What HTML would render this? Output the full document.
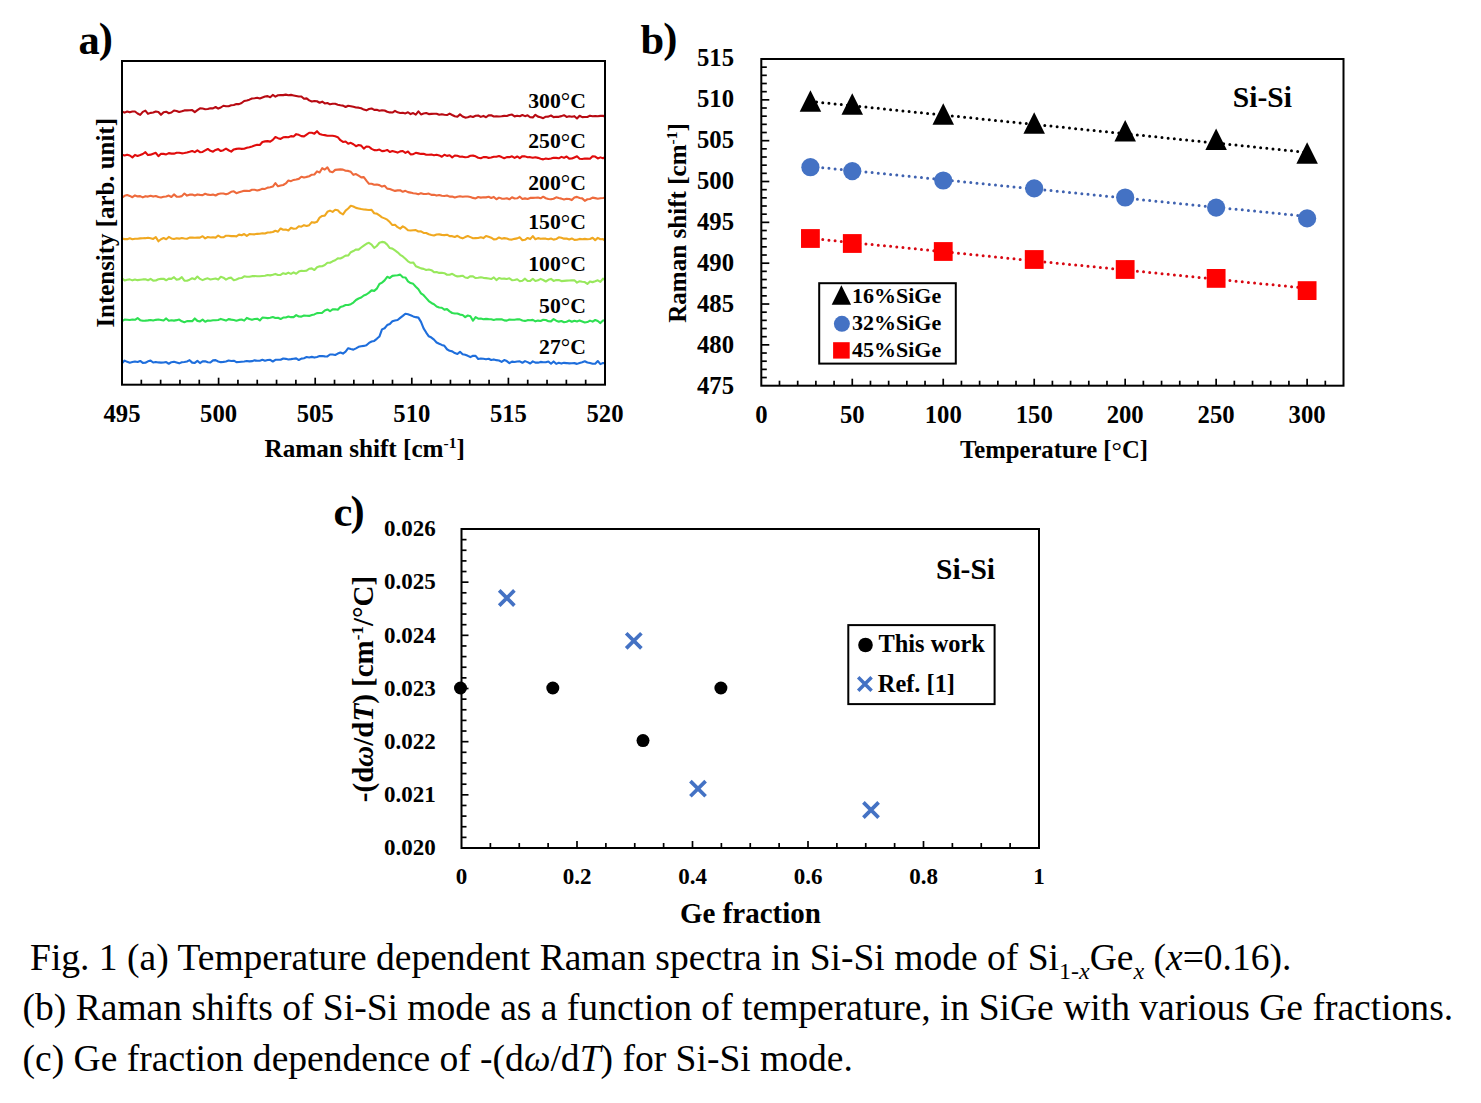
<!DOCTYPE html><html><head><meta charset="utf-8"><style>html,body{margin:0;padding:0;background:#fff;}svg{display:block;}</style></head><body><svg width="1481" height="1103" viewBox="0 0 1481 1103" font-family="'Liberation Serif'">
<rect width="1481" height="1103" fill="#fff"/>
<polyline points="122,111.54 124.6,112.66 127.2,111.47 129.8,112.35 132.4,111.55 135,111.49 137.6,113.47 140.2,114.95 142.8,111.85 145.4,110.64 148,113.82 150.6,112.88 153.2,112.57 155.8,111.52 158.4,111.97 161,114.8 163.6,112.21 166.2,111.7 168.8,113.24 171.4,112.52 174,110.49 176.6,110.93 179.2,112 181.8,111.32 184.4,110.4 187,110.35 189.6,110.2 192.2,110.07 194.8,112.08 197.4,110.2 200,108.39 202.6,108.56 205.2,109.27 207.8,109.06 210.4,108.19 213,108.33 215.6,107.02 218.2,108.58 220.8,107.5 223.4,105.75 226,106.3 228.6,106.3 231.2,105.26 233.8,105.05 236.4,104.1 239,104.13 241.6,103.01 244.2,101.02 246.8,100.4 249.4,99.67 252,98.46 254.6,98.22 257.2,97.83 259.8,98.56 262.4,97.51 265,96.57 267.6,96.13 270.2,97.29 272.8,94.93 275.4,96.63 278,95.26 280.6,95.11 283.2,95.11 285.8,94.63 288.4,95.28 291,94.89 293.6,95.42 296.2,95.98 298.8,96.49 301.4,96.52 304,98.74 306.6,98.36 309.2,100.34 311.8,101.48 314.4,100.93 317,101.23 319.6,102.73 322.2,101.67 324.8,103.43 327.4,103.04 330,104.34 332.6,103.76 335.2,103.82 337.8,104.66 340.4,105.25 343,105.65 345.6,107 348.2,105.74 350.8,106.19 353.4,106.81 356,107.5 358.6,107.65 361.2,108.29 363.8,109.57 366.4,110.36 369,108.96 371.6,108.44 374.2,109.85 376.8,109.84 379.4,110.73 382,110.24 384.6,110.45 387.2,111.8 389.8,112.41 392.4,112.56 395,110.92 397.6,112.34 400.2,112.93 402.8,112.77 405.4,113.4 408,112.24 410.6,114.08 413.2,113.09 415.8,114.58 418.4,111.37 421,114.4 423.6,113.46 426.2,113.01 428.8,114.08 431.4,113.89 434,113.7 436.6,113.81 439.2,114.78 441.8,114.25 444.4,114.74 447,115.06 449.6,113.62 452.2,114.98 454.8,116.24 457.4,116.73 460,114.39 462.6,116.48 465.2,117.59 467.8,117.18 470.4,116.15 473,116.96 475.6,115.83 478.2,115.49 480.8,116.87 483.4,115.92 486,117.24 488.6,115.37 491.2,115.31 493.8,116.49 496.4,116.37 499,116.44 501.6,116.32 504.2,115.87 506.8,116.04 509.4,114.96 512,114.58 514.6,116.38 517.2,115.73 519.8,116.21 522.4,114.98 525,116.13 527.6,115.33 530.2,117.25 532.8,117.42 535.4,114.85 538,116.61 540.6,117.17 543.2,118.17 545.8,116.68 548.4,116.64 551,115.51 553.6,117.16 556.2,116.72 558.8,116.86 561.4,116.12 564,115.2 566.6,116.9 569.2,116.2 571.8,116.8 574.4,116.17 577,118.5 579.6,115.79 582.2,117.16 584.8,116.99 587.4,116.98 590,115.66 592.6,116.26 595.2,115.99 597.8,116.32 600.4,115.85 603,115.74 605,116.72" fill="none" stroke="#B80A12" stroke-width="2.1" stroke-linejoin="round"/>
<polyline points="122,154.7 124.6,155.57 127.2,154.68 129.8,155.48 132.4,157.38 135,154.93 137.6,155.92 140.2,155.08 142.8,154 145.4,152.21 148,155.08 150.6,154.66 153.2,153.68 155.8,152.78 158.4,156.19 161,153.83 163.6,153.88 166.2,154.41 168.8,153.15 171.4,153.65 174,153.66 176.6,152.8 179.2,152.77 181.8,153.35 184.4,152.99 187,152.57 189.6,151.79 192.2,150.93 194.8,152.17 197.4,150.38 200,152.19 202.6,151.92 205.2,150.37 207.8,148.98 210.4,150.76 213,151.65 215.6,149.91 218.2,149.13 220.8,151.04 223.4,150.17 226,148.68 228.6,150.25 231.2,151.63 233.8,149.41 236.4,148.85 239,148.55 241.6,148.85 244.2,148.71 246.8,147.77 249.4,147.2 252,146.42 254.6,145.57 257.2,144.76 259.8,144.94 262.4,141.95 265,141.37 267.6,141.12 270.2,141.62 272.8,139.9 275.4,137.07 278,138.14 280.6,138.92 283.2,137.29 285.8,137.05 288.4,137.3 291,136.15 293.6,136.45 296.2,134.14 298.8,134.83 301.4,136.13 304,136.33 306.6,134.56 309.2,132.74 311.8,132.75 314.4,133.64 317,131.2 319.6,133.94 322.2,134.77 324.8,135.13 327.4,135.78 330,135.8 332.6,135.8 335.2,136.3 337.8,137.14 340.4,140.24 343,141.97 345.6,141.51 348.2,143.72 350.8,142.85 353.4,144.27 356,146.2 358.6,145.05 361.2,145.6 363.8,148.6 366.4,146.5 369,146.7 371.6,148.84 374.2,150.08 376.8,150.2 379.4,149.55 382,151.1 384.6,150.88 387.2,149.95 389.8,151.96 392.4,150.98 395,151.66 397.6,152.61 400.2,151.36 402.8,151.01 405.4,152.88 408,151.5 410.6,154.4 413.2,154.2 415.8,152.8 418.4,153.38 421,153.91 423.6,153.77 426.2,154.75 428.8,154.71 431.4,154.53 434,155.18 436.6,154.75 439.2,155.43 441.8,156.8 444.4,154.71 447,155.88 449.6,155.27 452.2,157.33 454.8,155.49 457.4,155.74 460,156.76 462.6,156.65 465.2,157.27 467.8,156.96 470.4,155.8 473,155.62 475.6,156.32 478.2,157.77 480.8,158.32 483.4,157.15 486,157.1 488.6,157.87 491.2,157.57 493.8,156.8 496.4,156.73 499,156.02 501.6,157.08 504.2,158.3 506.8,157.1 509.4,157.14 512,156.28 514.6,157.87 517.2,156.49 519.8,158.17 522.4,156.18 525,156.38 527.6,157.32 530.2,157.16 532.8,157.71 535.4,157.24 538,157.86 540.6,158.72 543.2,159.38 545.8,158.49 548.4,158.93 551,158.43 553.6,157.74 556.2,157.88 558.8,158.3 561.4,156.87 564,157.85 566.6,156.46 569.2,158.61 571.8,158.56 574.4,157.43 577,156.32 579.6,158.76 582.2,158.93 584.8,158.54 587.4,158.61 590,158.72 592.6,156.18 595.2,156.58 597.8,158.43 600.4,157.37 603,158.31 605,157.29" fill="none" stroke="#E00C0C" stroke-width="2.1" stroke-linejoin="round"/>
<polyline points="122,197.57 124.6,195.8 127.2,194.98 129.8,195.92 132.4,197.23 135,195.41 137.6,196.4 140.2,196.15 142.8,197.34 145.4,196.17 148,196.59 150.6,195.69 153.2,196.6 155.8,195.93 158.4,197.06 161,197.42 163.6,196.82 166.2,196.54 168.8,195.56 171.4,197.03 174,194.4 176.6,196.58 179.2,196.79 181.8,196.12 184.4,193.49 187,195.6 189.6,194.64 192.2,194.46 194.8,195.51 197.4,194.41 200,194.87 202.6,195.14 205.2,193.71 207.8,194.66 210.4,195.04 213,194.61 215.6,195.5 218.2,194 220.8,193.44 223.4,193.57 226,194.36 228.6,193.42 231.2,191.77 233.8,191.3 236.4,193.16 239,192.37 241.6,191.6 244.2,190.68 246.8,190.86 249.4,191.04 252,189.82 254.6,189.76 257.2,190.47 259.8,189.9 262.4,188.7 265,188.93 267.6,187.59 270.2,187.31 272.8,186.56 275.4,183.17 278,186.31 280.6,185.49 283.2,184.98 285.8,183.43 288.4,180.55 291,181.17 293.6,179.91 296.2,179.45 298.8,178.86 301.4,176.74 304,177.61 306.6,176.89 309.2,176.25 311.8,174.7 314.4,174.51 317,171.34 319.6,172.51 322.2,168.21 324.8,169.56 327.4,167.4 330,171.58 332.6,172.28 335.2,169.89 337.8,169.63 340.4,169.39 343,169.6 345.6,170.72 348.2,170.91 350.8,171.83 353.4,174.85 356,174.02 358.6,175.71 361.2,177.33 363.8,177.13 366.4,180.62 369,183.81 371.6,183.77 374.2,184.7 376.8,184.58 379.4,185.11 382,186.58 384.6,185.74 387.2,188.62 389.8,189.05 392.4,190.01 395,190.89 397.6,190.35 400.2,190.25 402.8,191.79 405.4,190.83 408,192.12 410.6,192.6 413.2,193.21 415.8,193.46 418.4,194.2 421,193.13 423.6,193.95 426.2,194.03 428.8,193.57 431.4,194.86 434,194.86 436.6,195.58 439.2,195.01 441.8,195.73 444.4,195.93 447,195.48 449.6,196.6 452.2,196.46 454.8,197.41 457.4,196.67 460,196.18 462.6,196.68 465.2,196.54 467.8,196.5 470.4,196.97 473,197.89 475.6,198.42 478.2,197 480.8,197.63 483.4,197.2 486,197.39 488.6,196.8 491.2,197.95 493.8,196.92 496.4,199.25 499,197.62 501.6,198.58 504.2,198.7 506.8,198.21 509.4,199.31 512,197.24 514.6,198.5 517.2,198.28 519.8,196.67 522.4,198.94 525,198.37 527.6,198.99 530.2,197.92 532.8,197.9 535.4,197.81 538,197.54 540.6,198.31 543.2,196.71 545.8,198.23 548.4,198.96 551,199.33 553.6,198.7 556.2,197.33 558.8,198.08 561.4,198.63 564,199.54 566.6,198.85 569.2,198.97 571.8,200.07 574.4,197.57 577,196.88 579.6,197.93 582.2,198.37 584.8,200.84 587.4,199.24 590,199 592.6,197.61 595.2,198.11 597.8,198.75 600.4,198.29 603,198.01 605,197.74" fill="none" stroke="#EE6A3C" stroke-width="2.1" stroke-linejoin="round"/>
<polyline points="122,238.52 124.6,239.11 127.2,239.14 129.8,238.26 132.4,239.22 135,238.71 137.6,238.81 140.2,238.41 142.8,238.32 145.4,238.17 148,237.7 150.6,238.22 153.2,238.93 155.8,237.11 158.4,241.28 161,239.22 163.6,238.01 166.2,239.21 168.8,236.93 171.4,238.4 174,238.98 176.6,238.24 179.2,238.65 181.8,237.98 184.4,238.53 187,238.78 189.6,237.64 192.2,237.44 194.8,237.78 197.4,237.53 200,237.63 202.6,236.2 205.2,238.37 207.8,237.03 210.4,237.51 213,237.21 215.6,237.6 218.2,235.54 220.8,237.14 223.4,237.32 226,235.69 228.6,235.79 231.2,236.1 233.8,236.08 236.4,236.4 239,234.64 241.6,235.22 244.2,234.04 246.8,235.81 249.4,234.13 252,234.28 254.6,234.34 257.2,233.83 259.8,233.71 262.4,233.27 265,233.51 267.6,232.43 270.2,232.37 272.8,231.98 275.4,230.71 278,231.69 280.6,228.46 283.2,229.8 285.8,229.59 288.4,230.45 291,227.77 293.6,228.82 296.2,228.48 298.8,226.19 301.4,226.66 304,225.17 306.6,226.04 309.2,225.14 311.8,222.17 314.4,222.65 317,221.83 319.6,217.65 322.2,215.92 324.8,215.6 327.4,211.82 330,210.61 332.6,211.84 335.2,209.79 337.8,210.22 340.4,212.94 343,214.4 345.6,210.68 348.2,208.54 350.8,205.74 353.4,206.46 356,207.89 358.6,208.45 361.2,209.06 363.8,209.57 366.4,209.67 369,209.96 371.6,209.86 374.2,213.25 376.8,213.63 379.4,215.48 382,217.39 384.6,218.36 387.2,219.69 389.8,222.09 392.4,225.07 395,224.7 397.6,227.18 400.2,228.66 402.8,226.39 405.4,227.97 408,230.28 410.6,230.46 413.2,230.23 415.8,230.06 418.4,231.51 421,231.41 423.6,232.95 426.2,233.07 428.8,234.31 431.4,234.96 434,235.54 436.6,234.5 439.2,234.39 441.8,234.85 444.4,235.12 447,234.69 449.6,236.17 452.2,236.13 454.8,236.95 457.4,235.79 460,237.47 462.6,238.36 465.2,237.09 467.8,236.04 470.4,237.1 473,238.21 475.6,238.15 478.2,238.05 480.8,237.35 483.4,238.1 486,236.02 488.6,236.83 491.2,237.72 493.8,239.4 496.4,239.18 499,237.48 501.6,238.67 504.2,238.15 506.8,238.56 509.4,239.53 512,239.6 514.6,238.86 517.2,238.4 519.8,237.34 522.4,240.28 525,239.78 527.6,237.98 530.2,239.09 532.8,236.14 535.4,239.29 538,238.12 540.6,238.83 543.2,238.51 545.8,238.66 548.4,239.27 551,238.48 553.6,239.63 556.2,239.05 558.8,237.27 561.4,237.68 564,238.67 566.6,238.51 569.2,239.5 571.8,238.45 574.4,239.9 577,239.71 579.6,238.89 582.2,239.26 584.8,238.85 587.4,239.19 590,239.03 592.6,237.73 595.2,240.12 597.8,237.88 600.4,239.21 603,239.16 605,240.76" fill="none" stroke="#F0A820" stroke-width="2.1" stroke-linejoin="round"/>
<polyline points="122,278.18 124.6,280.56 127.2,279.68 129.8,279.37 132.4,280.36 135,279.57 137.6,280.15 140.2,279.71 142.8,279.42 145.4,279.32 148,280.29 150.6,278.88 153.2,280.63 155.8,280.47 158.4,279.2 161,278.91 163.6,278.77 166.2,280.28 168.8,278.65 171.4,278.88 174,277.2 176.6,279.75 179.2,279.11 181.8,277.14 184.4,280.69 187,280.68 189.6,279.67 192.2,278.22 194.8,279.28 197.4,276.56 200,278.91 202.6,280.12 205.2,279.08 207.8,278.35 210.4,279.41 213,278.92 215.6,278.5 218.2,279.59 220.8,276.79 223.4,277.67 226,279.67 228.6,278.15 231.2,277.63 233.8,280.19 236.4,279.42 239,278.32 241.6,278.07 244.2,276.31 246.8,276.81 249.4,276.79 252,276.16 254.6,275.93 257.2,276.29 259.8,276.26 262.4,275.95 265,275.74 267.6,274.97 270.2,275.39 272.8,274.74 275.4,273.91 278,274.93 280.6,274.88 283.2,273.2 285.8,274 288.4,272.68 291,273.9 293.6,272.37 296.2,273.71 298.8,271.59 301.4,270.82 304,270.95 306.6,270.65 309.2,268.76 311.8,268.34 314.4,270.02 317,267.26 319.6,266.33 322.2,266.19 324.8,265.07 327.4,262.79 330,262.77 332.6,261.31 335.2,260.27 337.8,258.37 340.4,258.49 343,257.22 345.6,255.64 348.2,255.55 350.8,252.2 353.4,251.05 356,249.43 358.6,249.59 361.2,247.5 363.8,245.55 366.4,243.8 369,242.85 371.6,244.54 374.2,247.88 376.8,246.02 379.4,242.75 382,241.88 384.6,242.37 387.2,244.66 389.8,248.09 392.4,248.6 395,250.36 397.6,252.3 400.2,254.76 402.8,256.49 405.4,258.75 408,261.34 410.6,262.8 413.2,262.45 415.8,266.17 418.4,267.18 421,268.4 423.6,268.84 426.2,270.04 428.8,269.44 431.4,270.19 434,272.19 436.6,272.04 439.2,272.92 441.8,272.76 444.4,273.22 447,274.77 449.6,274.79 452.2,273.8 454.8,275.48 457.4,276.39 460,276.16 462.6,275.72 465.2,277.5 467.8,277.93 470.4,276.23 473,276.42 475.6,278.06 478.2,277.8 480.8,277.18 483.4,277.85 486,278.1 488.6,278.54 491.2,279.04 493.8,277.39 496.4,280.08 499,278 501.6,278.77 504.2,278.61 506.8,278.95 509.4,278.34 512,280.18 514.6,280.06 517.2,279.25 519.8,281.27 522.4,280.79 525,278.68 527.6,281.07 530.2,280.84 532.8,278.76 535.4,280.97 538,280.34 540.6,278.9 543.2,280 545.8,281.5 548.4,279.8 551,278.88 553.6,280.88 556.2,280.03 558.8,280.09 561.4,281.08 564,280.84 566.6,280.62 569.2,280.48 571.8,280.18 574.4,280.33 577,282.6 579.6,281.18 582.2,281.73 584.8,282.06 587.4,283.88 590,281.4 592.6,282.12 595.2,281.34 597.8,280.29 600.4,281.84 603,278.6 605,280.2" fill="none" stroke="#98E85C" stroke-width="2.1" stroke-linejoin="round"/>
<polyline points="122,321.08 124.6,319.54 127.2,319.79 129.8,320 132.4,319.53 135,319.76 137.6,318.02 140.2,320.18 142.8,320.72 145.4,320.6 148,320.38 150.6,319.93 153.2,320.43 155.8,319.85 158.4,319.45 161,319.95 163.6,320.53 166.2,318.44 168.8,320.81 171.4,320.21 174,320.61 176.6,320.15 179.2,319.56 181.8,321.34 184.4,322.23 187,321.15 189.6,320.98 192.2,321.16 194.8,318.46 197.4,320.88 200,321.48 202.6,319.66 205.2,321.79 207.8,320.53 210.4,320.68 213,320.29 215.6,320.28 218.2,320.03 220.8,318.9 223.4,319.7 226,320.61 228.6,319.1 231.2,319.62 233.8,319.99 236.4,320.71 239,319.89 241.6,319.45 244.2,320.61 246.8,317.91 249.4,319.01 252,319.83 254.6,319.02 257.2,318.73 259.8,320.43 262.4,317.6 265,317.78 267.6,318.11 270.2,317.79 272.8,317.03 275.4,318.07 278,317.82 280.6,319.04 283.2,317.54 285.8,317.48 288.4,316.54 291,317.17 293.6,317.16 296.2,315.11 298.8,316.53 301.4,316.64 304,315.43 306.6,315.74 309.2,315.89 311.8,314.94 314.4,314.41 317,313.14 319.6,313.06 322.2,312.84 324.8,310.45 327.4,309.47 330,311.23 332.6,309.33 335.2,309.23 337.8,309.77 340.4,306.94 343,306.17 345.6,305.04 348.2,305.01 350.8,304.16 353.4,302.6 356,299.99 358.6,298.5 361.2,297.55 363.8,295.47 366.4,294.5 369,292.66 371.6,290.38 374.2,290.89 376.8,288.64 379.4,284 382,282.59 384.6,280.36 387.2,276.84 389.8,277.92 392.4,275.9 395,275.56 397.6,275.32 400.2,274.62 402.8,277.22 405.4,277.45 408,281.41 410.6,283.09 413.2,283.85 415.8,286.68 418.4,289.23 421,293.38 423.6,295.21 426.2,298.15 428.8,301.05 431.4,302.96 434,304.28 436.6,306.5 439.2,307.53 441.8,307.77 444.4,309.64 447,309.11 449.6,311.39 452.2,313.01 454.8,313.49 457.4,313.5 460,314.59 462.6,314.95 465.2,317.16 467.8,315.5 470.4,316.27 473,320.7 475.6,317.07 478.2,318.69 480.8,318.47 483.4,319.24 486,318.84 488.6,319.08 491.2,319.19 493.8,319.93 496.4,319.35 499,319.4 501.6,319.23 504.2,320.4 506.8,320.64 509.4,319.53 512,319.77 514.6,319.68 517.2,319.29 519.8,319.35 522.4,320.46 525,320.89 527.6,320.14 530.2,320.25 532.8,319.88 535.4,321.34 538,320.6 540.6,320.95 543.2,319.71 545.8,320.05 548.4,321.24 551,321.37 553.6,319.17 556.2,320.72 558.8,321.64 561.4,321.06 564,322.27 566.6,321.67 569.2,320.54 571.8,321.81 574.4,320.8 577,321.54 579.6,320.41 582.2,321.41 584.8,322.44 587.4,322.08 590,320.64 592.6,321.64 595.2,320.01 597.8,321.02 600.4,323.06 603,320.55 605,320.37" fill="none" stroke="#2EE052" stroke-width="2.1" stroke-linejoin="round"/>
<polyline points="122,363.27 124.6,360.57 127.2,361.84 129.8,362.68 132.4,362.08 135,361.46 137.6,361.99 140.2,360.96 142.8,362.92 145.4,362.72 148,361.31 150.6,360.64 153.2,362.5 155.8,361.93 158.4,362.42 161,362.61 163.6,362.54 166.2,362.09 168.8,363.75 171.4,362.21 174,361.72 176.6,362.49 179.2,363.36 181.8,362.31 184.4,361.98 187,361.47 189.6,360.18 192.2,362.62 194.8,362.87 197.4,360.92 200,363.06 202.6,361.37 205.2,361.23 207.8,362.27 210.4,362.48 213,360.39 215.6,360.13 218.2,361.44 220.8,362.15 223.4,361.88 226,361.49 228.6,360.55 231.2,360.96 233.8,360.69 236.4,362.15 239,361.97 241.6,361.68 244.2,361.46 246.8,360.98 249.4,361.4 252,361.15 254.6,360.36 257.2,360.8 259.8,360.68 262.4,359.79 265,360.81 267.6,360.04 270.2,359.91 272.8,361.5 275.4,359.81 278,359.72 280.6,359.78 283.2,358.5 285.8,358.84 288.4,359.53 291,359.15 293.6,358.69 296.2,358.37 298.8,360.02 301.4,358.65 304,358.16 306.6,357.08 309.2,357.49 311.8,356.88 314.4,357.6 317,356.96 319.6,356.11 322.2,355.99 324.8,356.37 327.4,356.46 330,354.53 332.6,354.49 335.2,354.96 337.8,353.57 340.4,352.43 343,353.57 345.6,351.66 348.2,348.23 350.8,349.09 353.4,349.65 356,348.37 358.6,346.84 361.2,346.25 363.8,345.91 366.4,345.29 369,342.91 371.6,341.5 374.2,340.92 376.8,338.82 379.4,336.53 382,329.37 384.6,328.22 387.2,325.05 389.8,323.94 392.4,321.26 395,320.44 397.6,320.04 400.2,317.92 402.8,315.91 405.4,313.69 408,314.27 410.6,315.2 413.2,316.4 415.8,317.15 418.4,317.62 421,321.91 423.6,328.36 426.2,332.54 428.8,336.32 431.4,337.56 434,339.64 436.6,342.46 439.2,343.79 441.8,344.91 444.4,345.86 447,349.26 449.6,350.81 452.2,351.38 454.8,353.1 457.4,353.95 460,351.85 462.6,354.28 465.2,354.79 467.8,355.83 470.4,357.07 473,355.79 475.6,355.86 478.2,358.99 480.8,358.48 483.4,358.71 486,359.22 488.6,358.7 491.2,360.03 493.8,359.42 496.4,360.16 499,360.48 501.6,361.89 504.2,360.06 506.8,361.09 509.4,363.15 512,361.6 514.6,361.93 517.2,361.48 519.8,361.39 522.4,362.79 525,361.11 527.6,362.15 530.2,363.47 532.8,361.38 535.4,362.61 538,362.67 540.6,361.91 543.2,362.31 545.8,362.32 548.4,361.45 551,363.73 553.6,361.43 556.2,363.85 558.8,362.8 561.4,363.61 564,362.85 566.6,363.08 569.2,363.41 571.8,363.22 574.4,363.12 577,363.88 579.6,362.9 582.2,362.15 584.8,361.22 587.4,362.47 590,363 592.6,363.8 595.2,363.79 597.8,361.03 600.4,364.11 603,363.09 605,363.03" fill="none" stroke="#1E6EDC" stroke-width="2.1" stroke-linejoin="round"/>
<rect x="122.0" y="61.0" width="483.0" height="323.7" fill="none" stroke="#000" stroke-width="2"/>
<line x1="141.32" y1="384.7" x2="141.32" y2="379.7" stroke="#000" stroke-width="1.7" />
<line x1="160.64" y1="384.7" x2="160.64" y2="379.7" stroke="#000" stroke-width="1.7" />
<line x1="179.96" y1="384.7" x2="179.96" y2="379.7" stroke="#000" stroke-width="1.7" />
<line x1="199.28" y1="384.7" x2="199.28" y2="379.7" stroke="#000" stroke-width="1.7" />
<line x1="218.6" y1="384.7" x2="218.6" y2="377.7" stroke="#000" stroke-width="1.7" />
<line x1="237.92" y1="384.7" x2="237.92" y2="379.7" stroke="#000" stroke-width="1.7" />
<line x1="257.24" y1="384.7" x2="257.24" y2="379.7" stroke="#000" stroke-width="1.7" />
<line x1="276.56" y1="384.7" x2="276.56" y2="379.7" stroke="#000" stroke-width="1.7" />
<line x1="295.88" y1="384.7" x2="295.88" y2="379.7" stroke="#000" stroke-width="1.7" />
<line x1="315.2" y1="384.7" x2="315.2" y2="377.7" stroke="#000" stroke-width="1.7" />
<line x1="334.52" y1="384.7" x2="334.52" y2="379.7" stroke="#000" stroke-width="1.7" />
<line x1="353.84" y1="384.7" x2="353.84" y2="379.7" stroke="#000" stroke-width="1.7" />
<line x1="373.16" y1="384.7" x2="373.16" y2="379.7" stroke="#000" stroke-width="1.7" />
<line x1="392.48" y1="384.7" x2="392.48" y2="379.7" stroke="#000" stroke-width="1.7" />
<line x1="411.8" y1="384.7" x2="411.8" y2="377.7" stroke="#000" stroke-width="1.7" />
<line x1="431.12" y1="384.7" x2="431.12" y2="379.7" stroke="#000" stroke-width="1.7" />
<line x1="450.44" y1="384.7" x2="450.44" y2="379.7" stroke="#000" stroke-width="1.7" />
<line x1="469.76" y1="384.7" x2="469.76" y2="379.7" stroke="#000" stroke-width="1.7" />
<line x1="489.08" y1="384.7" x2="489.08" y2="379.7" stroke="#000" stroke-width="1.7" />
<line x1="508.4" y1="384.7" x2="508.4" y2="377.7" stroke="#000" stroke-width="1.7" />
<line x1="527.72" y1="384.7" x2="527.72" y2="379.7" stroke="#000" stroke-width="1.7" />
<line x1="547.04" y1="384.7" x2="547.04" y2="379.7" stroke="#000" stroke-width="1.7" />
<line x1="566.36" y1="384.7" x2="566.36" y2="379.7" stroke="#000" stroke-width="1.7" />
<line x1="585.68" y1="384.7" x2="585.68" y2="379.7" stroke="#000" stroke-width="1.7" />
<text x="122" y="422" font-size="24.7" font-weight="bold" text-anchor="middle" >495</text>
<text x="218.6" y="422" font-size="24.7" font-weight="bold" text-anchor="middle" >500</text>
<text x="315.2" y="422" font-size="24.7" font-weight="bold" text-anchor="middle" >505</text>
<text x="411.8" y="422" font-size="24.7" font-weight="bold" text-anchor="middle" >510</text>
<text x="508.4" y="422" font-size="24.7" font-weight="bold" text-anchor="middle" >515</text>
<text x="605" y="422" font-size="24.7" font-weight="bold" text-anchor="middle" >520</text>
<text x="264.5" y="457.4" font-size="25.2" font-weight="bold" text-anchor="start" >Raman shift [cm<tspan font-size="15.5" dy="-9.5">-1</tspan><tspan dy="9.5">]</tspan></text>
<text x="114.5" y="222.8" font-size="24.9" font-weight="bold" text-anchor="middle" transform="rotate(-90 114.5 222.8)">Intensity [arb. unit]</text>
<text x="78.6" y="54" font-size="42.5" font-weight="bold" text-anchor="start" >a<tspan dx="-1.2" dy="-2">)</tspan></text>
<text x="585.8" y="108" font-size="21.7" font-weight="bold" text-anchor="end" >300<tspan font-weight="normal" font-size="23.5" dy="1.3">&#176;</tspan><tspan dy="-1.3">C</tspan></text>
<text x="585.8" y="148.3" font-size="21.7" font-weight="bold" text-anchor="end" >250<tspan font-weight="normal" font-size="23.5" dy="1.3">&#176;</tspan><tspan dy="-1.3">C</tspan></text>
<text x="585.8" y="189.6" font-size="21.7" font-weight="bold" text-anchor="end" >200<tspan font-weight="normal" font-size="23.5" dy="1.3">&#176;</tspan><tspan dy="-1.3">C</tspan></text>
<text x="585.8" y="229.2" font-size="21.7" font-weight="bold" text-anchor="end" >150<tspan font-weight="normal" font-size="23.5" dy="1.3">&#176;</tspan><tspan dy="-1.3">C</tspan></text>
<text x="585.8" y="271.2" font-size="21.7" font-weight="bold" text-anchor="end" >100<tspan font-weight="normal" font-size="23.5" dy="1.3">&#176;</tspan><tspan dy="-1.3">C</tspan></text>
<text x="585.8" y="312.9" font-size="21.7" font-weight="bold" text-anchor="end" >50<tspan font-weight="normal" font-size="23.5" dy="1.3">&#176;</tspan><tspan dy="-1.3">C</tspan></text>
<text x="585.8" y="353.8" font-size="21.7" font-weight="bold" text-anchor="end" >27<tspan font-weight="normal" font-size="23.5" dy="1.3">&#176;</tspan><tspan dy="-1.3">C</tspan></text>
<line x1="810.42" y1="101.4" x2="1307.11" y2="152.4" stroke="#000" stroke-width="3.0" stroke-linecap="round" stroke-dasharray="0 6.2"/>
<line x1="810.42" y1="166.4" x2="1307.11" y2="216.4" stroke="#3F62B0" stroke-width="3.0" stroke-linecap="round" stroke-dasharray="0 6.2"/>
<line x1="810.42" y1="238.3" x2="1307.11" y2="288.3" stroke="#D80812" stroke-width="3.0" stroke-linecap="round" stroke-dasharray="0 6.2"/>
<polygon points="810.42,90.3 821.17,111.8 799.67,111.8" fill="#000"/>
<polygon points="852.27,93.25 863.02,114.75 841.52,114.75" fill="#000"/>
<polygon points="943.24,103.15 953.99,124.65 932.49,124.65" fill="#000"/>
<polygon points="1034.21,112.25 1044.96,133.75 1023.46,133.75" fill="#000"/>
<polygon points="1125.17,120 1135.92,141.5 1114.42,141.5" fill="#000"/>
<polygon points="1216.14,128.5 1226.89,150 1205.39,150" fill="#000"/>
<polygon points="1307.11,142.3 1317.86,163.8 1296.36,163.8" fill="#000"/>
<circle cx="810.42" cy="167.2" r="9.1" fill="#4472C4"/>
<circle cx="852.27" cy="171.1" r="9.1" fill="#4472C4"/>
<circle cx="943.24" cy="180.5" r="9.1" fill="#4472C4"/>
<circle cx="1034.21" cy="188.4" r="9.1" fill="#4472C4"/>
<circle cx="1125.17" cy="197.5" r="9.1" fill="#4472C4"/>
<circle cx="1216.14" cy="207.6" r="9.1" fill="#4472C4"/>
<circle cx="1307.11" cy="218.4" r="9.1" fill="#4472C4"/>
<rect x="801.02" y="229.1" width="18.8" height="18.8" fill="#FF0000"/>
<rect x="842.87" y="234.1" width="18.8" height="18.8" fill="#FF0000"/>
<rect x="933.84" y="242.1" width="18.8" height="18.8" fill="#FF0000"/>
<rect x="1024.81" y="250.1" width="18.8" height="18.8" fill="#FF0000"/>
<rect x="1115.77" y="260.1" width="18.8" height="18.8" fill="#FF0000"/>
<rect x="1206.74" y="269" width="18.8" height="18.8" fill="#FF0000"/>
<rect x="1297.71" y="281.2" width="18.8" height="18.8" fill="#FF0000"/>
<rect x="761.3" y="59.0" width="582.2" height="326.7" fill="none" stroke="#000" stroke-width="2"/>
<line x1="761.3" y1="377.53" x2="766.8" y2="377.53" stroke="#000" stroke-width="1.7" />
<line x1="761.3" y1="369.37" x2="766.8" y2="369.37" stroke="#000" stroke-width="1.7" />
<line x1="761.3" y1="361.2" x2="766.8" y2="361.2" stroke="#000" stroke-width="1.7" />
<line x1="761.3" y1="353.03" x2="766.8" y2="353.03" stroke="#000" stroke-width="1.7" />
<line x1="761.3" y1="344.86" x2="769.3" y2="344.86" stroke="#000" stroke-width="1.7" />
<line x1="761.3" y1="336.69" x2="766.8" y2="336.69" stroke="#000" stroke-width="1.7" />
<line x1="761.3" y1="328.53" x2="766.8" y2="328.53" stroke="#000" stroke-width="1.7" />
<line x1="761.3" y1="320.36" x2="766.8" y2="320.36" stroke="#000" stroke-width="1.7" />
<line x1="761.3" y1="312.19" x2="766.8" y2="312.19" stroke="#000" stroke-width="1.7" />
<line x1="761.3" y1="304.02" x2="769.3" y2="304.02" stroke="#000" stroke-width="1.7" />
<line x1="761.3" y1="295.86" x2="766.8" y2="295.86" stroke="#000" stroke-width="1.7" />
<line x1="761.3" y1="287.69" x2="766.8" y2="287.69" stroke="#000" stroke-width="1.7" />
<line x1="761.3" y1="279.52" x2="766.8" y2="279.52" stroke="#000" stroke-width="1.7" />
<line x1="761.3" y1="271.35" x2="766.8" y2="271.35" stroke="#000" stroke-width="1.7" />
<line x1="761.3" y1="263.19" x2="769.3" y2="263.19" stroke="#000" stroke-width="1.7" />
<line x1="761.3" y1="255.02" x2="766.8" y2="255.02" stroke="#000" stroke-width="1.7" />
<line x1="761.3" y1="246.85" x2="766.8" y2="246.85" stroke="#000" stroke-width="1.7" />
<line x1="761.3" y1="238.69" x2="766.8" y2="238.69" stroke="#000" stroke-width="1.7" />
<line x1="761.3" y1="230.52" x2="766.8" y2="230.52" stroke="#000" stroke-width="1.7" />
<line x1="761.3" y1="222.35" x2="769.3" y2="222.35" stroke="#000" stroke-width="1.7" />
<line x1="761.3" y1="214.18" x2="766.8" y2="214.18" stroke="#000" stroke-width="1.7" />
<line x1="761.3" y1="206.01" x2="766.8" y2="206.01" stroke="#000" stroke-width="1.7" />
<line x1="761.3" y1="197.85" x2="766.8" y2="197.85" stroke="#000" stroke-width="1.7" />
<line x1="761.3" y1="189.68" x2="766.8" y2="189.68" stroke="#000" stroke-width="1.7" />
<line x1="761.3" y1="181.51" x2="769.3" y2="181.51" stroke="#000" stroke-width="1.7" />
<line x1="761.3" y1="173.34" x2="766.8" y2="173.34" stroke="#000" stroke-width="1.7" />
<line x1="761.3" y1="165.18" x2="766.8" y2="165.18" stroke="#000" stroke-width="1.7" />
<line x1="761.3" y1="157.01" x2="766.8" y2="157.01" stroke="#000" stroke-width="1.7" />
<line x1="761.3" y1="148.84" x2="766.8" y2="148.84" stroke="#000" stroke-width="1.7" />
<line x1="761.3" y1="140.68" x2="769.3" y2="140.68" stroke="#000" stroke-width="1.7" />
<line x1="761.3" y1="132.51" x2="766.8" y2="132.51" stroke="#000" stroke-width="1.7" />
<line x1="761.3" y1="124.34" x2="766.8" y2="124.34" stroke="#000" stroke-width="1.7" />
<line x1="761.3" y1="116.17" x2="766.8" y2="116.17" stroke="#000" stroke-width="1.7" />
<line x1="761.3" y1="108" x2="766.8" y2="108" stroke="#000" stroke-width="1.7" />
<line x1="761.3" y1="99.84" x2="769.3" y2="99.84" stroke="#000" stroke-width="1.7" />
<line x1="761.3" y1="91.67" x2="766.8" y2="91.67" stroke="#000" stroke-width="1.7" />
<line x1="761.3" y1="83.5" x2="766.8" y2="83.5" stroke="#000" stroke-width="1.7" />
<line x1="761.3" y1="75.34" x2="766.8" y2="75.34" stroke="#000" stroke-width="1.7" />
<line x1="761.3" y1="67.17" x2="766.8" y2="67.17" stroke="#000" stroke-width="1.7" />
<line x1="779.49" y1="385.7" x2="779.49" y2="380.7" stroke="#000" stroke-width="1.7" />
<line x1="797.69" y1="385.7" x2="797.69" y2="380.7" stroke="#000" stroke-width="1.7" />
<line x1="815.88" y1="385.7" x2="815.88" y2="380.7" stroke="#000" stroke-width="1.7" />
<line x1="834.07" y1="385.7" x2="834.07" y2="380.7" stroke="#000" stroke-width="1.7" />
<line x1="852.27" y1="385.7" x2="852.27" y2="378.7" stroke="#000" stroke-width="1.7" />
<line x1="870.46" y1="385.7" x2="870.46" y2="380.7" stroke="#000" stroke-width="1.7" />
<line x1="888.66" y1="385.7" x2="888.66" y2="380.7" stroke="#000" stroke-width="1.7" />
<line x1="906.85" y1="385.7" x2="906.85" y2="380.7" stroke="#000" stroke-width="1.7" />
<line x1="925.04" y1="385.7" x2="925.04" y2="380.7" stroke="#000" stroke-width="1.7" />
<line x1="943.24" y1="385.7" x2="943.24" y2="378.7" stroke="#000" stroke-width="1.7" />
<line x1="961.43" y1="385.7" x2="961.43" y2="380.7" stroke="#000" stroke-width="1.7" />
<line x1="979.62" y1="385.7" x2="979.62" y2="380.7" stroke="#000" stroke-width="1.7" />
<line x1="997.82" y1="385.7" x2="997.82" y2="380.7" stroke="#000" stroke-width="1.7" />
<line x1="1016.01" y1="385.7" x2="1016.01" y2="380.7" stroke="#000" stroke-width="1.7" />
<line x1="1034.21" y1="385.7" x2="1034.21" y2="378.7" stroke="#000" stroke-width="1.7" />
<line x1="1052.4" y1="385.7" x2="1052.4" y2="380.7" stroke="#000" stroke-width="1.7" />
<line x1="1070.59" y1="385.7" x2="1070.59" y2="380.7" stroke="#000" stroke-width="1.7" />
<line x1="1088.79" y1="385.7" x2="1088.79" y2="380.7" stroke="#000" stroke-width="1.7" />
<line x1="1106.98" y1="385.7" x2="1106.98" y2="380.7" stroke="#000" stroke-width="1.7" />
<line x1="1125.17" y1="385.7" x2="1125.17" y2="378.7" stroke="#000" stroke-width="1.7" />
<line x1="1143.37" y1="385.7" x2="1143.37" y2="380.7" stroke="#000" stroke-width="1.7" />
<line x1="1161.56" y1="385.7" x2="1161.56" y2="380.7" stroke="#000" stroke-width="1.7" />
<line x1="1179.76" y1="385.7" x2="1179.76" y2="380.7" stroke="#000" stroke-width="1.7" />
<line x1="1197.95" y1="385.7" x2="1197.95" y2="380.7" stroke="#000" stroke-width="1.7" />
<line x1="1216.14" y1="385.7" x2="1216.14" y2="378.7" stroke="#000" stroke-width="1.7" />
<line x1="1234.34" y1="385.7" x2="1234.34" y2="380.7" stroke="#000" stroke-width="1.7" />
<line x1="1252.53" y1="385.7" x2="1252.53" y2="380.7" stroke="#000" stroke-width="1.7" />
<line x1="1270.72" y1="385.7" x2="1270.72" y2="380.7" stroke="#000" stroke-width="1.7" />
<line x1="1288.92" y1="385.7" x2="1288.92" y2="380.7" stroke="#000" stroke-width="1.7" />
<line x1="1307.11" y1="385.7" x2="1307.11" y2="378.7" stroke="#000" stroke-width="1.7" />
<line x1="1325.31" y1="385.7" x2="1325.31" y2="380.7" stroke="#000" stroke-width="1.7" />
<text x="734" y="393.9" font-size="24.7" font-weight="bold" text-anchor="end" >475</text>
<text x="734" y="352.94" font-size="24.7" font-weight="bold" text-anchor="end" >480</text>
<text x="734" y="311.97" font-size="24.7" font-weight="bold" text-anchor="end" >485</text>
<text x="734" y="271.01" font-size="24.7" font-weight="bold" text-anchor="end" >490</text>
<text x="734" y="230.05" font-size="24.7" font-weight="bold" text-anchor="end" >495</text>
<text x="734" y="189.09" font-size="24.7" font-weight="bold" text-anchor="end" >500</text>
<text x="734" y="148.12" font-size="24.7" font-weight="bold" text-anchor="end" >505</text>
<text x="734" y="107.16" font-size="24.7" font-weight="bold" text-anchor="end" >510</text>
<text x="734" y="66.2" font-size="24.7" font-weight="bold" text-anchor="end" >515</text>
<text x="761.3" y="423" font-size="24.7" font-weight="bold" text-anchor="middle" >0</text>
<text x="852.27" y="423" font-size="24.7" font-weight="bold" text-anchor="middle" >50</text>
<text x="943.24" y="423" font-size="24.7" font-weight="bold" text-anchor="middle" >100</text>
<text x="1034.21" y="423" font-size="24.7" font-weight="bold" text-anchor="middle" >150</text>
<text x="1125.17" y="423" font-size="24.7" font-weight="bold" text-anchor="middle" >200</text>
<text x="1216.14" y="423" font-size="24.7" font-weight="bold" text-anchor="middle" >250</text>
<text x="1307.11" y="423" font-size="24.7" font-weight="bold" text-anchor="middle" >300</text>
<text x="960" y="457.5" font-size="24.7" font-weight="bold" text-anchor="start" >Temperature [<tspan font-weight="normal" font-size="26" dy="1.5">&#176;</tspan><tspan dy="-1.5">C]</tspan></text>
<text x="686" y="223" font-size="25.1" font-weight="bold" text-anchor="middle" transform="rotate(-90 686 223)">Raman shift [cm<tspan font-size="15.5" dy="-9.5">-1</tspan><tspan dy="9.5">]</tspan></text>
<text x="640.6" y="54" font-size="42.5" font-weight="bold" text-anchor="start" >b<tspan dx="-1" dy="-2">)</tspan></text>
<text x="1232.8" y="106.9" font-size="29.5" font-weight="bold" text-anchor="start" >Si-Si</text>
<rect x="819.2" y="283.2" width="136.6" height="80.4" fill="#fff" stroke="#000" stroke-width="2"/>
<polygon points="841.4,285.3 851.1,304.7 831.7,304.7" fill="#000"/>
<circle cx="841.9" cy="323.8" r="8" fill="#4472C4"/>
<rect x="833.1" y="342.2" width="16.6" height="16.4" fill="#FF0000"/>
<text x="852" y="302.8" font-size="22" font-weight="bold" text-anchor="start" >16%SiGe</text>
<text x="852" y="329.7" font-size="22" font-weight="bold" text-anchor="start" >32%SiGe</text>
<text x="852" y="356.5" font-size="22" font-weight="bold" text-anchor="start" >45%SiGe</text>
<rect x="461.5" y="529.0" width="577.5" height="319.0" fill="none" stroke="#000" stroke-width="2"/>
<line x1="461.5" y1="837.37" x2="466.5" y2="837.37" stroke="#000" stroke-width="1.7" />
<line x1="461.5" y1="826.73" x2="466.5" y2="826.73" stroke="#000" stroke-width="1.7" />
<line x1="461.5" y1="816.1" x2="466.5" y2="816.1" stroke="#000" stroke-width="1.7" />
<line x1="461.5" y1="805.47" x2="466.5" y2="805.47" stroke="#000" stroke-width="1.7" />
<line x1="461.5" y1="794.83" x2="468.5" y2="794.83" stroke="#000" stroke-width="1.7" />
<line x1="461.5" y1="784.2" x2="466.5" y2="784.2" stroke="#000" stroke-width="1.7" />
<line x1="461.5" y1="773.57" x2="466.5" y2="773.57" stroke="#000" stroke-width="1.7" />
<line x1="461.5" y1="762.93" x2="466.5" y2="762.93" stroke="#000" stroke-width="1.7" />
<line x1="461.5" y1="752.3" x2="466.5" y2="752.3" stroke="#000" stroke-width="1.7" />
<line x1="461.5" y1="741.67" x2="468.5" y2="741.67" stroke="#000" stroke-width="1.7" />
<line x1="461.5" y1="731.03" x2="466.5" y2="731.03" stroke="#000" stroke-width="1.7" />
<line x1="461.5" y1="720.4" x2="466.5" y2="720.4" stroke="#000" stroke-width="1.7" />
<line x1="461.5" y1="709.77" x2="466.5" y2="709.77" stroke="#000" stroke-width="1.7" />
<line x1="461.5" y1="699.13" x2="466.5" y2="699.13" stroke="#000" stroke-width="1.7" />
<line x1="461.5" y1="688.5" x2="468.5" y2="688.5" stroke="#000" stroke-width="1.7" />
<line x1="461.5" y1="677.87" x2="466.5" y2="677.87" stroke="#000" stroke-width="1.7" />
<line x1="461.5" y1="667.23" x2="466.5" y2="667.23" stroke="#000" stroke-width="1.7" />
<line x1="461.5" y1="656.6" x2="466.5" y2="656.6" stroke="#000" stroke-width="1.7" />
<line x1="461.5" y1="645.97" x2="466.5" y2="645.97" stroke="#000" stroke-width="1.7" />
<line x1="461.5" y1="635.33" x2="468.5" y2="635.33" stroke="#000" stroke-width="1.7" />
<line x1="461.5" y1="624.7" x2="466.5" y2="624.7" stroke="#000" stroke-width="1.7" />
<line x1="461.5" y1="614.07" x2="466.5" y2="614.07" stroke="#000" stroke-width="1.7" />
<line x1="461.5" y1="603.43" x2="466.5" y2="603.43" stroke="#000" stroke-width="1.7" />
<line x1="461.5" y1="592.8" x2="466.5" y2="592.8" stroke="#000" stroke-width="1.7" />
<line x1="461.5" y1="582.17" x2="468.5" y2="582.17" stroke="#000" stroke-width="1.7" />
<line x1="461.5" y1="571.53" x2="466.5" y2="571.53" stroke="#000" stroke-width="1.7" />
<line x1="461.5" y1="560.9" x2="466.5" y2="560.9" stroke="#000" stroke-width="1.7" />
<line x1="461.5" y1="550.27" x2="466.5" y2="550.27" stroke="#000" stroke-width="1.7" />
<line x1="461.5" y1="539.63" x2="466.5" y2="539.63" stroke="#000" stroke-width="1.7" />
<line x1="490.38" y1="848" x2="490.38" y2="843" stroke="#000" stroke-width="1.7" />
<line x1="519.25" y1="848" x2="519.25" y2="843" stroke="#000" stroke-width="1.7" />
<line x1="548.12" y1="848" x2="548.12" y2="843" stroke="#000" stroke-width="1.7" />
<line x1="577" y1="848" x2="577" y2="841" stroke="#000" stroke-width="1.7" />
<line x1="605.88" y1="848" x2="605.88" y2="843" stroke="#000" stroke-width="1.7" />
<line x1="634.75" y1="848" x2="634.75" y2="843" stroke="#000" stroke-width="1.7" />
<line x1="663.62" y1="848" x2="663.62" y2="843" stroke="#000" stroke-width="1.7" />
<line x1="692.5" y1="848" x2="692.5" y2="841" stroke="#000" stroke-width="1.7" />
<line x1="721.38" y1="848" x2="721.38" y2="843" stroke="#000" stroke-width="1.7" />
<line x1="750.25" y1="848" x2="750.25" y2="843" stroke="#000" stroke-width="1.7" />
<line x1="779.12" y1="848" x2="779.12" y2="843" stroke="#000" stroke-width="1.7" />
<line x1="808" y1="848" x2="808" y2="841" stroke="#000" stroke-width="1.7" />
<line x1="836.88" y1="848" x2="836.88" y2="843" stroke="#000" stroke-width="1.7" />
<line x1="865.75" y1="848" x2="865.75" y2="843" stroke="#000" stroke-width="1.7" />
<line x1="894.62" y1="848" x2="894.62" y2="843" stroke="#000" stroke-width="1.7" />
<line x1="923.5" y1="848" x2="923.5" y2="841" stroke="#000" stroke-width="1.7" />
<line x1="952.38" y1="848" x2="952.38" y2="843" stroke="#000" stroke-width="1.7" />
<line x1="981.25" y1="848" x2="981.25" y2="843" stroke="#000" stroke-width="1.7" />
<line x1="1010.12" y1="848" x2="1010.12" y2="843" stroke="#000" stroke-width="1.7" />
<text x="435.8" y="855.2" font-size="23" font-weight="bold" text-anchor="end" >0.020</text>
<text x="435.8" y="802.03" font-size="23" font-weight="bold" text-anchor="end" >0.021</text>
<text x="435.8" y="748.87" font-size="23" font-weight="bold" text-anchor="end" >0.022</text>
<text x="435.8" y="695.7" font-size="23" font-weight="bold" text-anchor="end" >0.023</text>
<text x="435.8" y="642.53" font-size="23" font-weight="bold" text-anchor="end" >0.024</text>
<text x="435.8" y="589.37" font-size="23" font-weight="bold" text-anchor="end" >0.025</text>
<text x="435.8" y="536.2" font-size="23" font-weight="bold" text-anchor="end" >0.026</text>
<text x="461.5" y="884" font-size="23" font-weight="bold" text-anchor="middle" >0</text>
<text x="577" y="884" font-size="23" font-weight="bold" text-anchor="middle" >0.2</text>
<text x="692.5" y="884" font-size="23" font-weight="bold" text-anchor="middle" >0.4</text>
<text x="808" y="884" font-size="23" font-weight="bold" text-anchor="middle" >0.6</text>
<text x="923.5" y="884" font-size="23" font-weight="bold" text-anchor="middle" >0.8</text>
<text x="1039" y="884" font-size="23" font-weight="bold" text-anchor="middle" >1</text>
<text x="680" y="922.8" font-size="29" font-weight="bold" text-anchor="start" >Ge fraction</text>
<text x="373" y="689" font-size="29" font-weight="bold" text-anchor="middle" transform="rotate(-90 373 689)">-(d<tspan font-style="italic">&#969;</tspan>/d<tspan font-style="italic">T</tspan>) [cm<tspan font-size="17" dy="-10">-1</tspan><tspan dy="10">/&#176;C]</tspan></text>
<text x="333.5" y="526" font-size="42.5" font-weight="bold" text-anchor="start" >c<tspan dx="-1.8" dy="-1.2">)</tspan></text>
<text x="936" y="579" font-size="29.5" font-weight="bold" text-anchor="start" >Si-Si</text>
<path d="M499.2 590.4L514.4 605.6M514.4 590.4L499.2 605.6" stroke="#4472C4" stroke-width="3.7" stroke-linecap="butt"/>
<path d="M626.2 633.2L641.4 648.4M641.4 633.2L626.2 648.4" stroke="#4472C4" stroke-width="3.7" stroke-linecap="butt"/>
<path d="M690.4 781.1L705.6 796.3M705.6 781.1L690.4 796.3" stroke="#4472C4" stroke-width="3.7" stroke-linecap="butt"/>
<path d="M863.4 802.4L878.6 817.6M878.6 802.4L863.4 817.6" stroke="#4472C4" stroke-width="3.7" stroke-linecap="butt"/>
<circle cx="460.5" cy="688" r="6.5" fill="#000"/>
<circle cx="552.8" cy="688" r="6.5" fill="#000"/>
<circle cx="643" cy="740.6" r="6.5" fill="#000"/>
<circle cx="720.9" cy="688" r="6.5" fill="#000"/>
<rect x="848.3" y="625.1" width="146.3" height="79" fill="#fff" stroke="#000" stroke-width="2"/>
<circle cx="865.5" cy="645" r="7.3" fill="#000"/>
<path d="M858.2 677.3L871.6 690.7M871.6 677.3L858.2 690.7" stroke="#4472C4" stroke-width="3.5" stroke-linecap="butt"/>
<text x="878.5" y="652" font-size="24.4" font-weight="bold" text-anchor="start" >This work</text>
<text x="877.8" y="692.2" font-size="24.4" font-weight="bold" text-anchor="start" >Ref. [1]</text>
<text x="30" y="969.5" font-size="37.55" font-weight="normal" text-anchor="start" >Fig. 1 (a) Temperature dependent Raman spectra in Si-Si mode of Si<tspan font-size="24" dy="9">1-<tspan font-style="italic">x</tspan></tspan><tspan dy="-9">Ge</tspan><tspan font-size="24" dy="9" font-style="italic">x</tspan><tspan dy="-9"> (<tspan font-style="italic">x</tspan>=0.16).</tspan></text>
<text x="22.5" y="1020.2" font-size="37.55" font-weight="normal" text-anchor="start" >(b) Raman shifts of Si-Si mode as a function of temperature, in SiGe with various Ge fractions.</text>
<text x="22.5" y="1070.6" font-size="37.55" font-weight="normal" text-anchor="start" >(c) Ge fraction dependence of -(d<tspan font-style="italic">&#969;</tspan>/d<tspan font-style="italic">T</tspan>) for Si-Si mode.</text>
</svg></body></html>
